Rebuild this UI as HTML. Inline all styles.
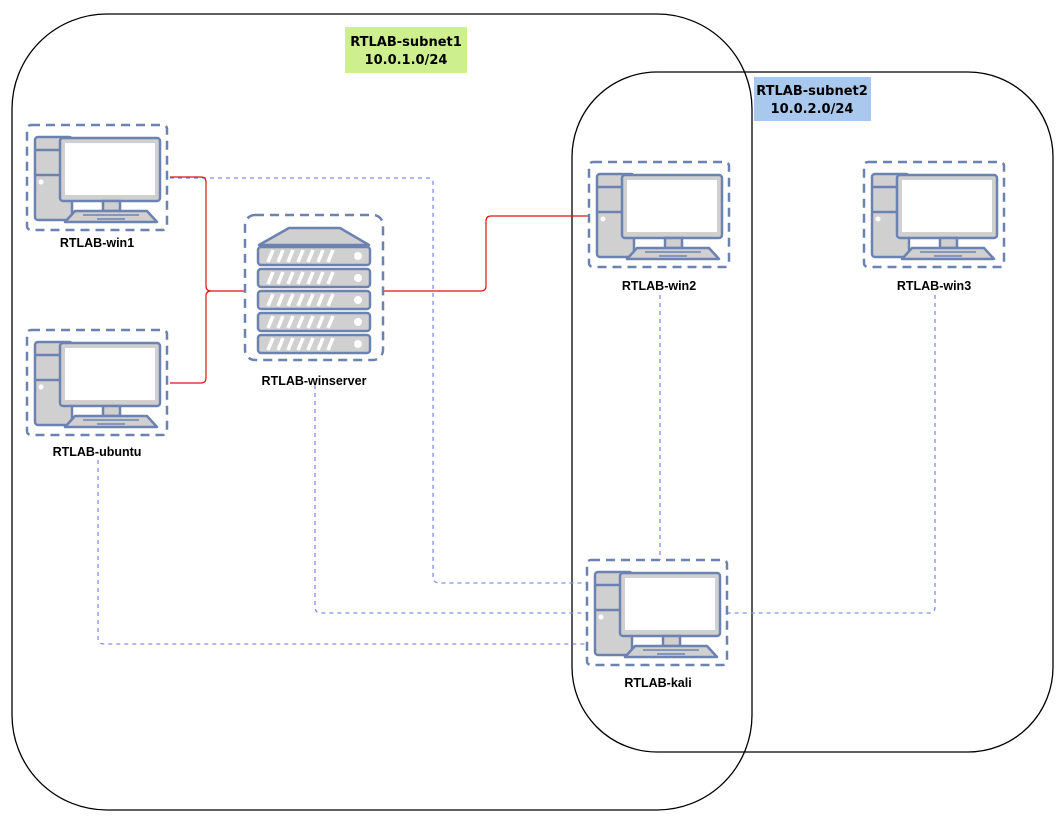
<!DOCTYPE html>
<html><head><meta charset="utf-8"><style>
html,body{margin:0;padding:0;background:#fff;}
svg{display:block;}
text{font-family:"Liberation Sans",Arial,sans-serif;font-weight:bold;font-size:12.5px;fill:#000;}
.sl{font-family:"DejaVu Sans","Liberation Sans",sans-serif;font-size:13px;font-weight:bold;}
</style></head><body>
<svg width="1060" height="822" viewBox="0 0 1060 822" xmlns="http://www.w3.org/2000/svg">
<defs>
<g id="pc">
  <rect x="0" y="0" width="140" height="105" rx="4" fill="none" stroke="#6c82b0" stroke-width="2.5" stroke-dasharray="9,6"/>
  <rect x="8" y="12" width="37" height="83" rx="3" fill="#d0d0d0" stroke="#6c82b0" stroke-width="2.5"/>
  <line x1="8" y1="25" x2="33" y2="25" stroke="#6c82b0" stroke-width="2.5"/>
  <line x1="8" y1="50" x2="33" y2="50" stroke="#6c82b0" stroke-width="2.5"/>
  <circle cx="14" cy="57" r="2.5" fill="#fff"/>
  <rect x="33" y="13" width="100" height="63" rx="3" fill="#d0d0d0" stroke="#6c82b0" stroke-width="2.5"/>
  <rect x="38" y="18" width="90" height="52" fill="#fff"/>
  <rect x="76" y="76" width="17" height="10" fill="#d0d0d0" stroke="#6c82b0" stroke-width="2.5"/>
  <path d="M48 86 L120 86 L130 97 L38 97 Z" fill="#d0d0d0" stroke="#6c82b0" stroke-width="2.5" stroke-linejoin="round"/>
  <line x1="56" y1="90" x2="112" y2="90" stroke="#6c82b0" stroke-width="1.5"/>
  <line x1="70" y1="94" x2="98" y2="94" stroke="#6c82b0" stroke-width="1.5"/>
</g>
<g id="unit">
  <rect x="0" y="0" width="112" height="18" rx="3" fill="#d0d0d0" stroke="#6c82b0" stroke-width="2.5"/>
  <path d="M10 15 l5 -12 M20 15 l5 -12 M30 15 l5 -12 M40 15 l5 -12 M50 15 l5 -12 M60 15 l5 -12 M70 15 l5 -12" stroke="#fff" stroke-width="3.5"/>
  <circle cx="100" cy="9" r="4" fill="#fff"/>
</g>
</defs>

<rect x="12" y="14" width="740" height="796" rx="95" fill="none" stroke="#000" stroke-width="1.3"/>
<rect x="572" y="72" width="481" height="680" rx="85" fill="none" stroke="#000" stroke-width="1.3"/>

<rect x="345" y="27" width="122" height="46" fill="#cdef8e"/>
<text class="sl" x="406" y="46" text-anchor="middle">RTLAB-subnet1</text>
<text class="sl" x="406" y="64" text-anchor="middle">10.0.1.0/24</text>
<rect x="754" y="77" width="117" height="44" fill="#a9c8ee"/>
<text class="sl" x="812" y="95" text-anchor="middle">RTLAB-subnet2</text>
<text class="sl" x="812" y="113" text-anchor="middle">10.0.2.0/24</text>

<g fill="none" stroke="#7d8ff0" stroke-width="1.3" stroke-dasharray="4,4">
  <path d="M170 178 L428 178 Q433 178 433 183 L433 577 Q433 583 440 583 L587 583"/>
  <path d="M315 385 L315 607 Q315 613 321 613 L587 613"/>
  <path d="M98 460 L98 638 Q98 644 104 644 L587 644"/>
  <path d="M660 295 L660 560"/>
  <path d="M935 295 L935 607 Q935 613 929 613 L728 613"/>
</g>
<g fill="none" stroke="#e01010" stroke-width="1.2">
  <path d="M170 177 L201 177 Q206 177 206 182 L206 286 Q206 291 211 291 L245 291"/>
  <path d="M170 383 L201 383 Q206 383 206 378 L206 296 Q206 291 211 291"/>
  <path d="M383 291 L481 291 Q486 291 486 286 L486 221 Q486 216 491 216 L590 216"/>
</g>

<use href="#pc" x="27" y="125"/>
<text x="97" y="247" text-anchor="middle">RTLAB-win1</text>
<use href="#pc" x="27" y="330"/>
<text x="97" y="456" text-anchor="middle">RTLAB-ubuntu</text>
<use href="#pc" x="589" y="162"/>
<text x="659" y="290" text-anchor="middle">RTLAB-win2</text>
<use href="#pc" x="864" y="162"/>
<text x="934" y="290" text-anchor="middle">RTLAB-win3</text>
<use href="#pc" x="587" y="560"/>
<text x="658" y="687" text-anchor="middle">RTLAB-kali</text>

<rect x="245" y="215" width="138" height="145" rx="10" fill="#fff" stroke="#6c82b0" stroke-width="2.5" stroke-dasharray="9,6"/>
<path d="M289 228 L340 228 L369 245 L259 245 Z" fill="#d0d0d0" stroke="#6c82b0" stroke-width="2.5" stroke-linejoin="round"/>
<use href="#unit" x="258" y="247"/>
<use href="#unit" x="258" y="269"/>
<use href="#unit" x="258" y="291"/>
<use href="#unit" x="258" y="313"/>
<use href="#unit" x="258" y="335"/>
<text x="314" y="385" text-anchor="middle">RTLAB-winserver</text>
</svg>
</body></html>
